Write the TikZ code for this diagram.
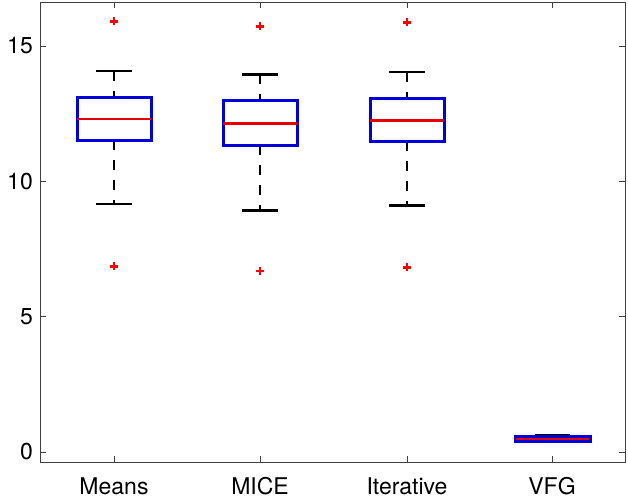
\documentclass[tikz,border=0pt]{standalone}
\usepackage{fontspec}
\setmainfont{TeX Gyre Heros}
\begin{document}
\begin{tikzpicture}[x=1pt,y=-1pt,
  ax/.style={draw=black!75,line width=1pt},
  boxs/.style={draw=blue!85!black,line width=3pt},
  med/.style={draw=red!90!black,line width=2.8pt},
  wh/.style={draw=black,line width=2.8pt,dash pattern=on 10pt off 10pt},
  capline/.style={draw=black,line width=2.8pt},
  tl/.style={font=\fontsize{23}{26}\selectfont,inner sep=0pt}]
\useasboundingbox (0,0) rectangle (628,499);
% axes
\draw[ax] (40,2) rectangle (625,462);
\foreach \x/\l in {114/Means,260/MICE,407/Iterative,552/VFG}{
  \draw[ax] (\x,462) -- (\x,456); \draw[ax] (\x,2) -- (\x,8);
  \node[tl] (x\l) at (\x,486) {\l};}
\foreach \v/\yy in {0/452,5/316.5,10/181.5,15/46}{
  \draw[ax] (40,\yy) -- (46,\yy); \draw[ax] (625,\yy) -- (619,\yy);
  \node[tl,anchor=east] (y\v) at (33,\yy) {\v};}
% boxes: center, captop, q3, med, q1, caplow, outhi, outlo
\foreach \c/\a/\b/\m/\d/\e/\oh/\ol in {114/71/97.3/119/140.3/204/21.3/266.3, 260/74.3/100/123.3/145/210.3/26.3/271, 407/72/98.3/120.3/141.3/205.3/22.3/267.3}{
  \draw[wh] (\c,\a) -- (\c,\b);
  \draw[wh] (\c,\d) -- (\c,\e);
  \draw[capline] (\c-18,\a) -- (\c+18,\a);
  \draw[capline] (\c-18,\e) -- (\c+18,\e);
  \draw[boxs] (\c-37,\b) rectangle (\c+37,\d);
  \draw[med] (\c-37,\m) -- (\c+37,\m);
  \foreach \o in {\oh,\ol}{
    \draw[red,line width=2.4pt] (\c-4,\o) -- (\c+4,\o) (\c,\o-4) -- (\c,\o+4);}
}
% VFG
\draw[capline] (535,435.5) -- (570,435.5);
\draw[boxs] (515,436.5) rectangle (590,441);
\draw[med] (516,439) -- (589,439);
\end{tikzpicture}
\end{document}
